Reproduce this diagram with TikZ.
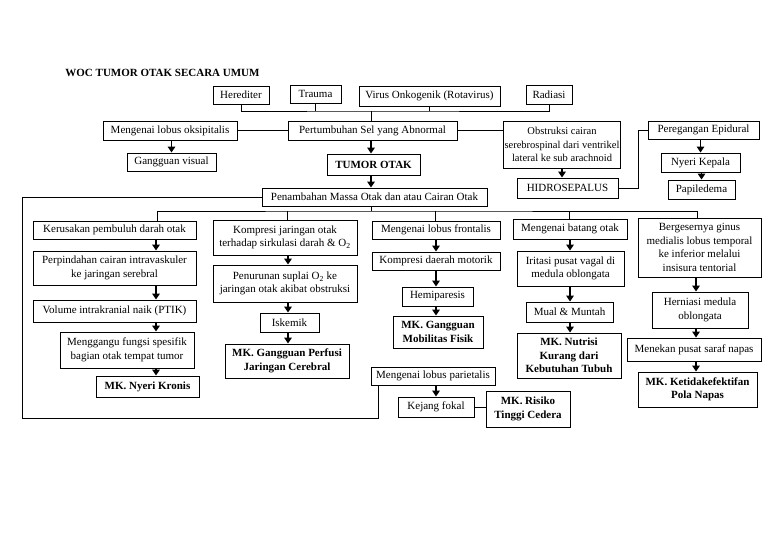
\documentclass[tikz,border=0pt]{standalone}
\usepackage{fontspec}
\setmainfont{Liberation Serif}
\usetikzlibrary{arrows.meta}
\newcommand\mybox[7][]{\node[box,#1,minimum width={(#5)-(#3)},minimum height={(#6)-(#4)}] (#2) at ({((#3)+(#5))/2},{((#4)+(#6))/2}) {#7};}
\tikzset{
  box/.style={draw, line width=0.9pt, inner sep=1pt, align=center, font=\fontsize{11}{13.4}\selectfont},
  mk/.style={font=\fontsize{11}{13.4}\selectfont\bfseries},
  small/.style={font=\fontsize{10.5}{13.2}\selectfont},
  ln/.style={line width=0.9pt},
  arr/.style={line width=1.6pt, -{Triangle[length=6pt,width=7.5pt]}},
}
\begin{document}
\begin{tikzpicture}[x=1pt,y=-1pt]
\useasboundingbox (0,0) rectangle (768,543);
\node[font=\fontsize{11}{12}\selectfont\bfseries] (title) at (162.5,73) {WOC TUMOR OTAK SECARA UMUM};
% top row
\mybox{her}{213}{86}{269}{104}{Herediter}
\mybox{tra}{290}{85}{341}{103}{Trauma}
\mybox{vir}{359}{86}{500}{106}{Virus Onkogenik (Rotavirus)}
\mybox{rad}{526}{85}{572}{104}{Radiasi}
\mybox{oks}{103}{121}{237}{140}{Mengenai lobus oksipitalis}
\mybox{per}{288}{121}{457}{140}{Pertumbuhan Sel yang Abnormal}
\mybox{gv}{127}{153}{216}{171}{Gangguan visual}
\mybox[mk]{tum}{327}{154}{420}{175}{TUMOR OTAK}
\mybox[small]{obs}{504}{121}{620}{168}{Obstruksi cairan\\serebrospinal dari ventrikel\\lateral ke sub arachnoid}
\mybox{hid}{517}{178}{618}{198}{HIDROSEPALUS}
\mybox{pe}{648}{121}{759}{139}{Peregangan Epidural}
\mybox{nk}{661}{153}{740}{172}{Nyeri Kepala}
\mybox{pap}{668}{180}{735}{199}{Papiledema}
\mybox{pen}{262}{188}{487}{206}{Penambahan Massa Otak dan atau Cairan Otak}
% column 1
\mybox{kr}{33}{221}{196}{239}{Kerusakan pembuluh darah otak}
\mybox{pp}{33}{251}{196}{285}{Perpindahan cairan intravaskuler\\ke jaringan serebral}
\mybox{vol}{33}{300}{196}{322}{Volume intrakranial naik (PTIK)}
\mybox{mf}{60}{332}{194}{368}{Menggangu fungsi spesifik\\bagian otak tempat tumor}
\mybox[mk]{nyk}{96}{376}{199}{397}{MK. Nyeri Kronis}
% column 2
\mybox{kj}{213}{220}{357}{255}{Kompresi jaringan otak\\terhadap sirkulasi darah \& O\textsubscript{2}}
\mybox{ps}{213}{265}{357}{302}{Penurunan suplai O\textsubscript{2} ke\\jaringan otak akibat obstruksi}
\mybox{isk}{260}{313}{319}{332}{Iskemik}
\mybox[mk]{mkp}{225}{344}{349}{378}{MK. Gangguan Perfusi\\Jaringan Cerebral}
% column 3
\mybox{fr}{372}{221}{500}{239}{Mengenai lobus frontalis}
\mybox{km}{372}{252}{500}{270}{Kompresi daerah motorik}
\mybox{hem}{402}{287}{473}{306}{Hemiparesis}
\mybox[mk]{mkm}{393}{316}{483}{348}{MK. Gangguan\\Mobilitas Fisik}
\mybox{par}{371}{367}{495}{385}{Mengenai lobus parietalis}
\mybox{kej}{398}{397}{474}{417}{Kejang fokal}
\mybox[mk]{ris}{486}{391}{570}{427}{MK. Risiko\\Tinggi Cedera}
% column 4
\mybox{bt}{513}{219}{627}{239}{Mengenai batang otak}
\mybox{ir}{517}{251}{624}{286}{Iritasi pusat vagal di\\medula oblongata}
\mybox{mm}{526}{302}{613}{322}{Mual \& Muntah}
\mybox[mk]{mkn}{517}{333}{621}{378}{MK. Nutrisi\\Kurang dari\\Kebutuhan Tubuh}
% column 5
\mybox{ber}{638}{218}{761}{277}{Bergesernya ginus\\medialis lobus temporal\\ke inferior melalui\\insisura tentorial}
\mybox{hn}{652}{292}{748}{328}{Herniasi medula\\oblongata}
\mybox{mn}{627}{338}{761}{361}{Menekan pusat saraf napas}
\mybox[mk]{mkk}{638}{372}{757}{407}{MK. Ketidakefektifan\\Pola Napas}
% helper coordinates
\coordinate (b1) at (371,111);
\coordinate (b2) at (371,211);
\coordinate (cx1) at (157,0);
\coordinate (cx2) at (287,0);
\coordinate (cx3) at (435,0);
\coordinate (cx4) at (569,0);
\coordinate (cx5) at (697,0);
\coordinate (ax1) at (156,0);
\coordinate (ax2) at (288,0);
\coordinate (ax3) at (436,0);
\coordinate (ax4) at (570,0);
\coordinate (ax5) at (696,0);
\coordinate (hp) at (638,0);
\coordinate (lp) at (22,418);
% top bus
\draw[ln] (her.south) |- (b1) -| (rad.south);
\draw[ln] (tra.south) -- (tra.south |- b1);
\draw[ln] (vir.south) -- (vir.south |- b1);
\draw[ln] (b1) -- (b1 |- per.north);
\draw[ln] (per.west) -- (per.west -| oks.east);
\draw[ln] (per.east) -- (per.east -| obs.west);
\draw[arr] (oks.south -| gv.north) -- (gv.north);
\draw[arr] (b1 |- per.south) -- (b1 |- tum.north);
\draw[arr] (b1 |- tum.south) -- (b1 |- pen.north);
\draw[arr] (obs.south) -- (obs.south |- hid.north);
\draw[ln] (hid.east) -| (hp |- pe.west) -- (pe.west);
\draw[arr] (pe.south -| nk.north) -- (nk.north);
\draw[arr] (nk.south -| pap.north) -- (pap.north);
% middle bus
\draw[ln] (b2 |- pen.south) -- (b2);
\draw[ln] (cx1 |- kr.north) |- (b2) -| (cx5 |- ber.north);
\draw[ln] (cx2 |- b2) -- (cx2 |- kj.north);
\draw[ln] (cx3 |- b2) -- (cx3 |- fr.north);
\draw[ln] (cx4 |- b2) -- (cx4 |- bt.north);
% loop
\draw[ln] (pen.west) -| (lp) -| ([xshift=8pt]par.south west);
% column arrows
\draw[arr] (ax1 |- kr.south) -- (ax1 |- pp.north);
\draw[arr] (ax1 |- pp.south) -- (ax1 |- vol.north);
\draw[arr] (ax1 |- vol.south) -- (ax1 |- mf.north);
\draw[arr] (ax1 |- mf.south) -- (ax1 |- nyk.north);
\draw[arr] (ax2 |- kj.south) -- (ax2 |- ps.north);
\draw[arr] (ax2 |- ps.south) -- (ax2 |- isk.north);
\draw[arr] (ax2 |- isk.south) -- (ax2 |- mkp.north);
\draw[arr] (ax3 |- fr.south) -- (ax3 |- km.north);
\draw[arr] (ax3 |- km.south) -- (ax3 |- hem.north);
\draw[arr] (ax3 |- hem.south) -- (ax3 |- mkm.north);
\draw[arr] (ax3 |- par.south) -- (ax3 |- kej.north);
\draw[ln] (kej.east) -- (kej.east -| ris.west);
\draw[arr] (ax4 |- bt.south) -- (ax4 |- ir.north);
\draw[arr] (ax4 |- ir.south) -- (ax4 |- mm.north);
\draw[arr] (ax4 |- mm.south) -- (ax4 |- mkn.north);
\draw[arr] (ax5 |- ber.south) -- (ax5 |- hn.north);
\draw[arr] (ax5 |- hn.south) -- (ax5 |- mn.north);
\draw[arr] (ax5 |- mn.south) -- (ax5 |- mkk.north);
\end{tikzpicture}
\end{document}
